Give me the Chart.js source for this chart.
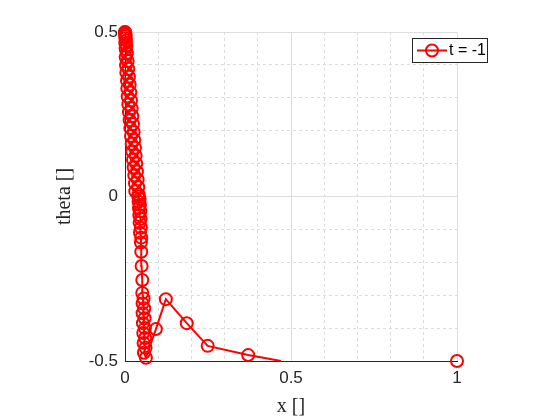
<!DOCTYPE html>
<html>
<head>
<meta charset="utf-8">
<script src="https://cdn.jsdelivr.net/npm/chart.js@4/dist/chart.umd.min.js"></script>
<style>
    html, body { margin: 0; padding: 0; background: #ffffff; }
    #wrap { width: 560px; height: 420px; position: relative; }
</style>
</head>
<body>
<div id="wrap"><canvas id="thetaChart"></canvas></div>
<script>
// series: t = -1 (x, theta)
const seriesLabel = 't = -1';
const xValues = [
    1, 0.47, 0.371, 0.249, 0.186, 0.123, 0.093, 0.063,
    0.057, 0.062, 0.056, 0.061, 0.055, 0.060, 0.054, 0.059, 0.053, 0.058, 0.053, 0.056, 0.052,
    0.052, 0.050, 0.049, 0.048,
    0.049, 0.045, 0.048, 0.044, 0.047, 0.043, 0.046, 0.042, 0.045, 0.041, 0.044, 0.040,
    0.041, 0.031, 0.040, 0.030, 0.038, 0.028, 0.036, 0.026, 0.034, 0.024, 0.032, 0.022,
    0.030, 0.020, 0.028, 0.018, 0.026, 0.016, 0.024, 0.014, 0.022, 0.012, 0.020, 0.010,
    0.018, 0.008, 0.016, 0.007, 0.014, 0.006, 0.012, 0.004, 0.010, 0.003, 0.008, 0.002,
    0.006, 0.002, 0.004, 0.001, 0.003, 0.001, 0.002, 0.001, 0.001, 0, 0
];
const thetaValues = [
    -0.5, -0.5, -0.482, -0.454, -0.385, -0.312, -0.403, -0.490,
    -0.475, -0.460, -0.445, -0.430, -0.415, -0.400, -0.385, -0.370, -0.355, -0.340, -0.325, -0.310, -0.293,
    -0.254, -0.211, -0.168, -0.140,
    -0.125, -0.110, -0.095, -0.080, -0.068, -0.056, -0.045, -0.035, -0.025, -0.016, -0.007, 0.000,
    0.006, 0.016, 0.028, 0.040, 0.052, 0.064, 0.076, 0.088, 0.100, 0.112, 0.124, 0.136,
    0.148, 0.160, 0.172, 0.184, 0.196, 0.208, 0.220, 0.232, 0.244, 0.256, 0.268, 0.280,
    0.292, 0.304, 0.316, 0.328, 0.340, 0.352, 0.364, 0.376, 0.388, 0.400, 0.412, 0.424,
    0.436, 0.448, 0.458, 0.466, 0.474, 0.481, 0.487, 0.492, 0.496, 0.499, 0.5
];
// index 1 is where the line leaves the axes (no marker there)
const hiddenMarkerIndex = 1;

const xTickLabels = ['0', '0.5', '1'];
const yTickLabels = ['-0.5', '0', '0.5'];

const points = xValues.map((x, i) => ({ x: x, y: thetaValues[i] }));
const radii = xValues.map((_, i) => i === hiddenMarkerIndex ? 0 : 6);

const RED = '#ff0000';
const TEXT = '#262626';

// legend box drawn like the MATLAB one (line + circle marker)
const matlabLegend = {
    id: 'matlabLegend',
    afterDraw(chart) {
        const ctx = chart.ctx;
        const ds = chart.data.datasets[0];
        ctx.save();
        ctx.fillStyle = '#ffffff';
        ctx.fillRect(412.5, 38.5, 75, 24);
        ctx.strokeStyle = TEXT;
        ctx.lineWidth = 1;
        ctx.strokeRect(412.5, 38.5, 75, 24);
        ctx.strokeStyle = RED;
        ctx.lineWidth = 2;
        ctx.beginPath();
        ctx.moveTo(417, 50.5);
        ctx.lineTo(447, 50.5);
        ctx.stroke();
        ctx.beginPath();
        ctx.arc(432, 50.5, 6, 0, Math.PI * 2);
        ctx.stroke();
        ctx.fillStyle = '#000000';
        ctx.font = '16px "Liberation Sans", Arial, sans-serif';
        ctx.textBaseline = 'middle';
        ctx.textAlign = 'left';
        ctx.fillText(ds.label, 449, 51);
        ctx.restore();
    }
};

const tickFont = { family: '"Liberation Sans", Arial, sans-serif', size: 17 };
const titleFont = { family: '"Liberation Serif", "DejaVu Serif", serif', size: 20 };

new Chart(document.getElementById('thetaChart').getContext('2d'), {
    type: 'scatter',
    data: {
        datasets: [{
            label: seriesLabel,
            data: points,
            showLine: true,
            borderColor: RED,
            borderWidth: 2,
            tension: 0,
            pointStyle: 'circle',
            pointRadius: radii,
            pointBorderWidth: 2,
            pointBorderColor: RED,
            pointBackgroundColor: 'rgba(0,0,0,0)',
            clip: 8,
            segment: {
                borderColor: c => c.p0DataIndex === 0 ? 'rgba(0,0,0,0)' : RED
            }
        }]
    },
    options: {
        responsive: true,
        maintainAspectRatio: false,
        animation: false,
        layout: { padding: { left: 0, top: 32, right: 103, bottom: 0 } },
        plugins: {
            legend: { display: false },
            tooltip: { enabled: false }
        },
        scales: {
            x: {
                type: 'linear',
                position: 'bottom',
                min: 0, max: 1,
                afterFit: s => { s.height = 59; },
                ticks: {
                    stepSize: 0.5,
                    color: TEXT,
                    font: tickFont,
                    padding: 7,
                    maxRotation: 0,
                    callback: (v) => xTickLabels.find(t => Number(t) === Number(v.toFixed(2))) || ''
                },
                grid: { color: '#dfdfdf', lineWidth: 1, drawTicks: false },
                border: { color: TEXT, width: 1 },
                title: { display: true, text: 'x []', color: TEXT, font: titleFont, padding: { bottom: 1 } }
            },
            y: {
                type: 'linear',
                position: 'left',
                min: -0.5, max: 0.5,
                afterFit: s => { s.width = 125; },
                ticks: {
                    stepSize: 0.5,
                    color: TEXT,
                    font: tickFont,
                    padding: 7,
                    callback: (v) => yTickLabels.find(t => Number(t) === Number(v.toFixed(2))) || ''
                },
                grid: { color: '#dfdfdf', lineWidth: 1, drawTicks: false },
                border: { color: TEXT, width: 1 },
                title: { display: true, text: 'theta []', color: TEXT, font: titleFont, padding: { top: 53 } }
            },
            xMinor: {
                type: 'linear',
                position: 'top',
                min: 0, max: 1,
                afterFit: s => { s.height = 0; },
                ticks: { stepSize: 0.1, display: false },
                grid: { color: '#dcdcdc', lineWidth: 1, drawTicks: false },
                border: { display: false, dash: [3, 3] }
            },
            yMinor: {
                type: 'linear',
                position: 'right',
                min: -0.5, max: 0.5,
                afterFit: s => { s.width = 0; },
                ticks: { stepSize: 0.1, display: false },
                grid: { color: '#dcdcdc', lineWidth: 1, drawTicks: false },
                border: { display: false, dash: [3, 3] }
            }
        }
    },
    plugins: [matlabLegend]
});
</script>
</body>
</html>
